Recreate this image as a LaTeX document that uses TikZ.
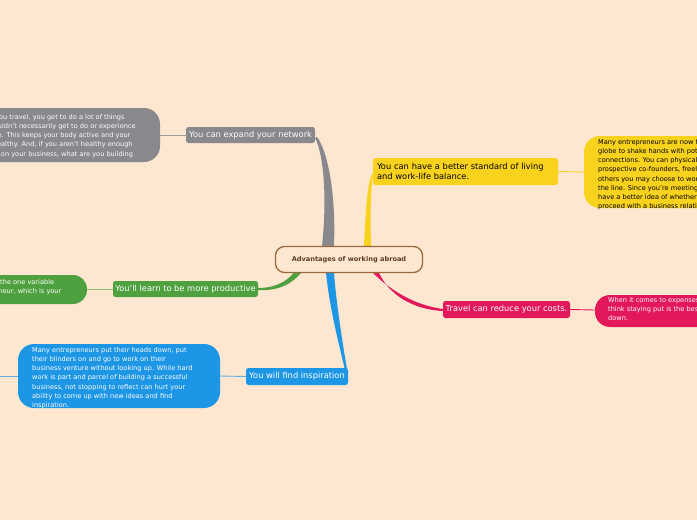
\documentclass[tikz,border=0pt]{standalone}
\usepackage{fontspec}
\setmainfont{DejaVu Sans}
\begin{document}
\begin{tikzpicture}[x=1pt,y=-1pt,
  br/.style={rounded corners=2.5pt,text=white,inner sep=0pt,font=\fontsize{8.3}{10}\selectfont},
  det/.style={font=\fontsize{6.6}{9.2}\selectfont,align=left,anchor=north west,inner sep=0pt},
  thin/.style={line width=0.9pt}]
\definecolor{bg}{HTML}{FDE7D0}
\definecolor{gr}{HTML}{88888D}
\definecolor{ye}{HTML}{F8D21C}
\definecolor{gn}{HTML}{4FA140}
\definecolor{bl}{HTML}{1D96E6}
\definecolor{pk}{HTML}{E2185B}
\definecolor{brn}{HTML}{9B6A3C}
\fill[bg] (0,0) rectangle (697,520);
\useasboundingbox (0,0) rectangle (697,520);
\clip (0,0) rectangle (697,520);
% detail boxes
\fill[gr,rounded corners=16pt] (-60,108) rectangle (160,162);
\fill[ye,rounded corners=16pt] (584,136) rectangle (760,208);
\fill[gn,rounded corners=14pt] (-60,275) rectangle (87,304);
\fill[bl,rounded corners=16pt] (18,344) rectangle (220,408);
\fill[pk,rounded corners=15pt] (595,295) rectangle (760,327);
% connector coordinates
\coordinate (cT) at (330,246);
\coordinate (cY) at (366,246);
\coordinate (cG) at (298,273);
\coordinate (cB) at (330,273);
\coordinate (cP) at (376,273);
% branches
\node[br,fill=gr,minimum width=129pt,minimum height=16pt] (g) at (250.5,135) {You can expand your network};
\node[br,fill=ye,text=black,minimum width=185pt,minimum height=27pt,align=left,text width=177pt] (y) at (465.5,171.5) {You can have a better standard of living\\and work-life balance.};
\node[br,fill=gn,minimum width=145pt,minimum height=16pt] (n) at (185.5,289) {You'll learn to be more productive};
\node[br,fill=bl,minimum width=102pt,minimum height=17pt] (b) at (297,376.5) {You will find inspiration};
\node[br,fill=pk,minimum width=127pt,minimum height=17pt] (p) at (506.5,309.5) {Travel can reduce your costs.};
% tapered connectors
\fill[gr] (322,246) .. controls (328,190) and (322,150) .. (315,138) -- (317,137) .. controls (327,150) and (336,190) .. (334,246) -- cycle;
\fill[ye] (364,246) .. controls (366,200) and (368,180) .. (373,173) -- (373,175) .. controls (371,185) and (370,210) .. (371,246) -- cycle;
\fill[gn] (296,270) .. controls (285,285) and (270,288) .. (258,288) -- (258,290) .. controls (272,291) and (288,288) .. (301,273) -- cycle;
\fill[bl] (326,273) .. controls (330,310) and (338,340) .. (345,370) -- (347,369) .. controls (342,340) and (336,300) .. (334,273) -- cycle;
\fill[pk] (372,272) .. controls (395,295) and (420,306) .. (443,309) -- (443,311) .. controls (420,310) and (392,300) .. (379,273) -- cycle;
% center
\node[draw=brn,line width=1.3pt,fill=bg,rounded corners=9pt,minimum width=147pt,minimum height=26pt,text=brn!60!black,font=\fontsize{6.6}{8}\selectfont\bfseries] (c) at (349,259.5) {Advantages of working abroad};
% thin links
\draw[thin,draw=gr!80!bg] (g.west) -- (160,135);
\draw[thin,draw=ye] (y.east) -- (584,172);
\draw[thin,draw=gn!60!bg] (n.west) -- (87,289);
\draw[thin,draw=bl!70!bg] (b.west) -- (220,376);
\draw[thin,draw=bl!70!bg] (18,376) -- (0,376);
\draw[thin,draw=pk] (p.east) -- (595,310);
% detail texts
\node[det,text=white] (gt) at (-26,114) {When you travel, you get to do a lot of things\\you wouldn't necessarily get to do or experience\\at home. This keeps your body active and your\\mind healthy. And, if you aren't healthy enough\\to work on your business, what are you building};
\node[det,text=black] (yt) at (598,139) {Many entrepreneurs are now traveling the\\globe to shake hands with potential\\connections. You can physically meet\\prospective co-founders, freelancers and\\others you may choose to work with down\\the line. Since you're meeting in person, you\\have a better idea of whether you want to\\proceed with a business relationship.};
\node[det,text=white] (nt) at (-30,279) {focus on the one variable\\entrepreneur, which is your};
\node[det,text=white] (bt) at (32,347) {Many entrepreneurs put their heads down, put\\their blinders on and go to work on their\\business venture without looking up. While hard\\work is part and parcel of building a successful\\business, not stopping to reflect can hurt your\\ability to come up with new ideas and find\\inspiration.};
\node[det,text=white] (pt) at (608,297) {When it comes to expenses, many\\think staying put is the best way\\down.};
\end{tikzpicture}
\end{document}
